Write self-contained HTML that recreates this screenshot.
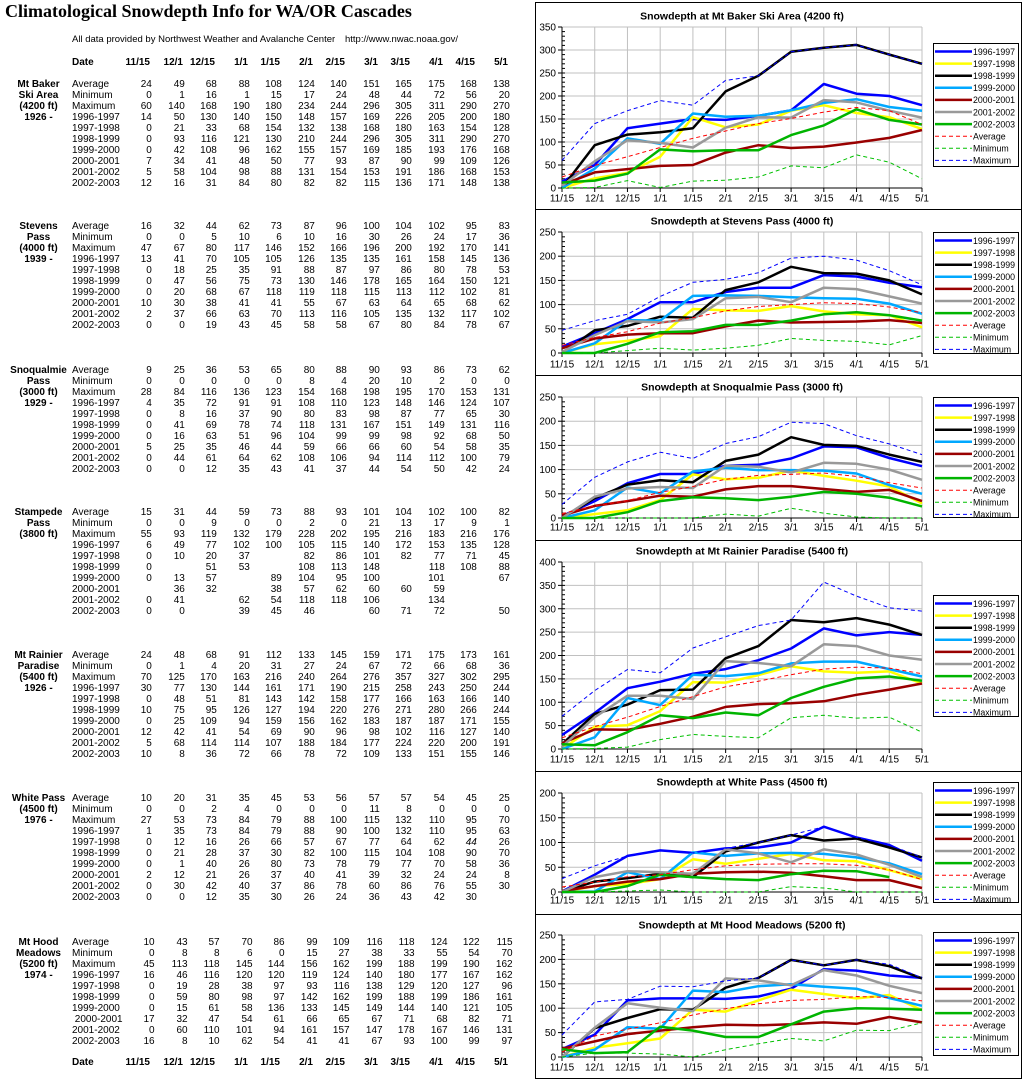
<!DOCTYPE html>
<html><head><meta charset="utf-8">
<style>
body{margin:0;background:#fff;width:1024px;height:1080px;position:relative;overflow:hidden;font-family:"Liberation Sans",Arial,sans-serif;}
h1{position:absolute;left:5px;top:1px;margin:0;font:bold 18px "Liberation Serif",serif;white-space:nowrap;}
.sub{position:absolute;top:34px;font-size:9.5px;white-space:nowrap;}
table.t{position:absolute;left:72px;border-collapse:collapse;table-layout:fixed;font-size:10px;}
table.t td{padding:0;height:11px;line-height:11px;text-align:right;white-space:nowrap;}
table.t td:first-child{text-align:left;}
table.h td{font-weight:bold;}
.st{position:absolute;left:0;width:77px;text-align:center;font-weight:bold;font-size:10px;line-height:11px;}
svg{position:absolute;left:0;top:0;}
svg text{font-family:"Liberation Sans",Arial,sans-serif;font-size:10px;}
svg .lg text{font-size:8.8px;}
</style></head><body>
<h1>Climatological Snowdepth Info for WA/OR Cascades</h1>
<div class="sub" style="left:72px">All data provided by Northwest Weather and Avalanche Center</div>
<div class="sub" style="left:345px">http://www.nwac.noaa.gov/</div>

<table class="t h" style="top:57px"><colgroup><col style="width:46px"><col style="width:32px"><col style="width:33px"><col style="width:32px"><col style="width:33px"><col style="width:32px"><col style="width:33px"><col style="width:32px"><col style="width:33px"><col style="width:32px"><col style="width:33px"><col style="width:32px"><col style="width:33px"></colgroup>
<tr><td>Date</td><td>11/15</td><td>12/1</td><td>12/15</td><td>1/1</td><td>1/15</td><td>2/1</td><td>2/15</td><td>3/1</td><td>3/15</td><td>4/1</td><td>4/15</td><td>5/1</td></tr></table>

<div class="st" style="top:78.5px">Mt Baker<br>Ski Area<br>(4200 ft)<br>1926 -</div>
<table class="t" style="top:78.5px"><colgroup><col style="width:46px"><col style="width:32px"><col style="width:33px"><col style="width:32px"><col style="width:33px"><col style="width:32px"><col style="width:33px"><col style="width:32px"><col style="width:33px"><col style="width:32px"><col style="width:33px"><col style="width:32px"><col style="width:33px"></colgroup>
<tr><td>Average</td><td>24</td><td>49</td><td>68</td><td>88</td><td>108</td><td>124</td><td>140</td><td>151</td><td>165</td><td>175</td><td>168</td><td>138</td></tr>
<tr><td>Minimum</td><td>0</td><td>1</td><td>16</td><td>1</td><td>15</td><td>17</td><td>24</td><td>48</td><td>44</td><td>72</td><td>56</td><td>20</td></tr>
<tr><td>Maximum</td><td>60</td><td>140</td><td>168</td><td>190</td><td>180</td><td>234</td><td>244</td><td>296</td><td>305</td><td>311</td><td>290</td><td>270</td></tr>
<tr><td>1996-1997</td><td>14</td><td>50</td><td>130</td><td>140</td><td>150</td><td>148</td><td>157</td><td>169</td><td>226</td><td>205</td><td>200</td><td>180</td></tr>
<tr><td>1997-1998</td><td>0</td><td>21</td><td>33</td><td>68</td><td>154</td><td>132</td><td>138</td><td>168</td><td>180</td><td>163</td><td>154</td><td>128</td></tr>
<tr><td>1998-1999</td><td>0</td><td>93</td><td>116</td><td>121</td><td>130</td><td>210</td><td>244</td><td>296</td><td>305</td><td>311</td><td>290</td><td>270</td></tr>
<tr><td>1999-2000</td><td>0</td><td>42</td><td>108</td><td>96</td><td>162</td><td>155</td><td>157</td><td>169</td><td>185</td><td>193</td><td>176</td><td>168</td></tr>
<tr><td>2000-2001</td><td>7</td><td>34</td><td>41</td><td>48</td><td>50</td><td>77</td><td>93</td><td>87</td><td>90</td><td>99</td><td>109</td><td>126</td></tr>
<tr><td>2001-2002</td><td>5</td><td>58</td><td>104</td><td>98</td><td>88</td><td>131</td><td>154</td><td>153</td><td>191</td><td>186</td><td>168</td><td>153</td></tr>
<tr><td>2002-2003</td><td>12</td><td>16</td><td>31</td><td>84</td><td>80</td><td>82</td><td>82</td><td>115</td><td>136</td><td>171</td><td>148</td><td>138</td></tr></table>

<div class="st" style="top:221px">Stevens<br>Pass<br>(4000 ft)<br>1939 -</div>
<table class="t" style="top:221px"><colgroup><col style="width:46px"><col style="width:32px"><col style="width:33px"><col style="width:32px"><col style="width:33px"><col style="width:32px"><col style="width:33px"><col style="width:32px"><col style="width:33px"><col style="width:32px"><col style="width:33px"><col style="width:32px"><col style="width:33px"></colgroup>
<tr><td>Average</td><td>16</td><td>32</td><td>44</td><td>62</td><td>73</td><td>87</td><td>96</td><td>100</td><td>104</td><td>102</td><td>95</td><td>83</td></tr>
<tr><td>Minimum</td><td>0</td><td>0</td><td>5</td><td>10</td><td>6</td><td>10</td><td>16</td><td>30</td><td>26</td><td>24</td><td>17</td><td>36</td></tr>
<tr><td>Maximum</td><td>47</td><td>67</td><td>80</td><td>117</td><td>146</td><td>152</td><td>166</td><td>196</td><td>200</td><td>192</td><td>170</td><td>141</td></tr>
<tr><td>1996-1997</td><td>13</td><td>41</td><td>70</td><td>105</td><td>105</td><td>126</td><td>135</td><td>135</td><td>161</td><td>158</td><td>145</td><td>136</td></tr>
<tr><td>1997-1998</td><td>0</td><td>18</td><td>25</td><td>35</td><td>91</td><td>88</td><td>87</td><td>97</td><td>86</td><td>80</td><td>78</td><td>53</td></tr>
<tr><td>1998-1999</td><td>0</td><td>47</td><td>56</td><td>75</td><td>73</td><td>130</td><td>146</td><td>178</td><td>165</td><td>164</td><td>150</td><td>121</td></tr>
<tr><td>1999-2000</td><td>0</td><td>20</td><td>68</td><td>67</td><td>118</td><td>119</td><td>118</td><td>115</td><td>113</td><td>112</td><td>102</td><td>81</td></tr>
<tr><td>2000-2001</td><td>10</td><td>30</td><td>38</td><td>41</td><td>41</td><td>55</td><td>67</td><td>63</td><td>64</td><td>65</td><td>68</td><td>62</td></tr>
<tr><td>2001-2002</td><td>2</td><td>37</td><td>66</td><td>63</td><td>70</td><td>113</td><td>116</td><td>105</td><td>135</td><td>132</td><td>117</td><td>102</td></tr>
<tr><td>2002-2003</td><td>0</td><td>0</td><td>19</td><td>43</td><td>45</td><td>58</td><td>58</td><td>67</td><td>80</td><td>84</td><td>78</td><td>67</td></tr></table>

<div class="st" style="top:364.5px">Snoqualmie<br>Pass<br>(3000 ft)<br>1929 -</div>
<table class="t" style="top:364.5px"><colgroup><col style="width:46px"><col style="width:32px"><col style="width:33px"><col style="width:32px"><col style="width:33px"><col style="width:32px"><col style="width:33px"><col style="width:32px"><col style="width:33px"><col style="width:32px"><col style="width:33px"><col style="width:32px"><col style="width:33px"></colgroup>
<tr><td>Average</td><td>9</td><td>25</td><td>36</td><td>53</td><td>65</td><td>80</td><td>88</td><td>90</td><td>93</td><td>86</td><td>73</td><td>62</td></tr>
<tr><td>Minimum</td><td>0</td><td>0</td><td>0</td><td>0</td><td>0</td><td>8</td><td>4</td><td>20</td><td>10</td><td>2</td><td>0</td><td>0</td></tr>
<tr><td>Maximum</td><td>28</td><td>84</td><td>116</td><td>136</td><td>123</td><td>154</td><td>168</td><td>198</td><td>195</td><td>170</td><td>153</td><td>131</td></tr>
<tr><td>1996-1997</td><td>4</td><td>35</td><td>72</td><td>91</td><td>91</td><td>108</td><td>110</td><td>123</td><td>148</td><td>146</td><td>124</td><td>107</td></tr>
<tr><td>1997-1998</td><td>0</td><td>8</td><td>16</td><td>37</td><td>90</td><td>80</td><td>83</td><td>98</td><td>87</td><td>77</td><td>65</td><td>30</td></tr>
<tr><td>1998-1999</td><td>0</td><td>41</td><td>69</td><td>78</td><td>74</td><td>118</td><td>131</td><td>167</td><td>151</td><td>149</td><td>131</td><td>116</td></tr>
<tr><td>1999-2000</td><td>0</td><td>16</td><td>63</td><td>51</td><td>96</td><td>104</td><td>99</td><td>99</td><td>98</td><td>92</td><td>68</td><td>50</td></tr>
<tr><td>2000-2001</td><td>5</td><td>25</td><td>35</td><td>46</td><td>44</td><td>59</td><td>66</td><td>66</td><td>60</td><td>54</td><td>58</td><td>35</td></tr>
<tr><td>2001-2002</td><td>0</td><td>44</td><td>61</td><td>64</td><td>62</td><td>108</td><td>106</td><td>94</td><td>114</td><td>112</td><td>100</td><td>79</td></tr>
<tr><td>2002-2003</td><td>0</td><td>0</td><td>12</td><td>35</td><td>43</td><td>41</td><td>37</td><td>44</td><td>54</td><td>50</td><td>42</td><td>24</td></tr></table>

<div class="st" style="top:507px">Stampede<br>Pass<br>(3800 ft)</div>
<table class="t" style="top:507px"><colgroup><col style="width:46px"><col style="width:32px"><col style="width:33px"><col style="width:32px"><col style="width:33px"><col style="width:32px"><col style="width:33px"><col style="width:32px"><col style="width:33px"><col style="width:32px"><col style="width:33px"><col style="width:32px"><col style="width:33px"></colgroup>
<tr><td>Average</td><td>15</td><td>31</td><td>44</td><td>59</td><td>73</td><td>88</td><td>93</td><td>101</td><td>104</td><td>102</td><td>100</td><td>82</td></tr>
<tr><td>Minimum</td><td>0</td><td>0</td><td>9</td><td>0</td><td>0</td><td>2</td><td>0</td><td>21</td><td>13</td><td>17</td><td>9</td><td>1</td></tr>
<tr><td>Maximum</td><td>55</td><td>93</td><td>119</td><td>132</td><td>179</td><td>228</td><td>202</td><td>195</td><td>216</td><td>183</td><td>216</td><td>176</td></tr>
<tr><td>1996-1997</td><td>6</td><td>49</td><td>77</td><td>102</td><td>100</td><td>105</td><td>115</td><td>140</td><td>172</td><td>153</td><td>135</td><td>128</td></tr>
<tr><td>1997-1998</td><td>0</td><td>10</td><td>20</td><td>37</td><td></td><td>82</td><td>86</td><td>101</td><td>82</td><td>77</td><td>71</td><td>45</td></tr>
<tr><td>1998-1999</td><td>0</td><td></td><td>51</td><td>53</td><td></td><td>108</td><td>113</td><td>148</td><td></td><td>118</td><td>108</td><td>88</td></tr>
<tr><td>1999-2000</td><td>0</td><td>13</td><td>57</td><td></td><td>89</td><td>104</td><td>95</td><td>100</td><td></td><td>101</td><td></td><td>67</td></tr>
<tr><td>2000-2001</td><td></td><td>36</td><td>32</td><td></td><td>38</td><td>57</td><td>62</td><td>60</td><td>60</td><td>59</td><td></td><td></td></tr>
<tr><td>2001-2002</td><td>0</td><td>41</td><td></td><td>62</td><td>54</td><td>118</td><td>118</td><td>106</td><td></td><td>134</td><td></td><td></td></tr>
<tr><td>2002-2003</td><td>0</td><td>0</td><td></td><td>39</td><td>45</td><td>46</td><td></td><td>60</td><td>71</td><td>72</td><td></td><td>50</td></tr></table>

<div class="st" style="top:650px">Mt Rainier<br>Paradise<br>(5400 ft)<br>1926 -</div>
<table class="t" style="top:650px"><colgroup><col style="width:46px"><col style="width:32px"><col style="width:33px"><col style="width:32px"><col style="width:33px"><col style="width:32px"><col style="width:33px"><col style="width:32px"><col style="width:33px"><col style="width:32px"><col style="width:33px"><col style="width:32px"><col style="width:33px"></colgroup>
<tr><td>Average</td><td>24</td><td>48</td><td>68</td><td>91</td><td>112</td><td>133</td><td>145</td><td>159</td><td>171</td><td>175</td><td>173</td><td>161</td></tr>
<tr><td>Minimum</td><td>0</td><td>1</td><td>4</td><td>20</td><td>31</td><td>27</td><td>24</td><td>67</td><td>72</td><td>66</td><td>68</td><td>36</td></tr>
<tr><td>Maximum</td><td>70</td><td>125</td><td>170</td><td>163</td><td>216</td><td>240</td><td>264</td><td>276</td><td>357</td><td>327</td><td>302</td><td>295</td></tr>
<tr><td>1996-1997</td><td>30</td><td>77</td><td>130</td><td>144</td><td>161</td><td>171</td><td>190</td><td>215</td><td>258</td><td>243</td><td>250</td><td>244</td></tr>
<tr><td>1997-1998</td><td>0</td><td>48</td><td>51</td><td>81</td><td>143</td><td>142</td><td>158</td><td>177</td><td>166</td><td>163</td><td>166</td><td>140</td></tr>
<tr><td>1998-1999</td><td>10</td><td>75</td><td>95</td><td>126</td><td>127</td><td>194</td><td>220</td><td>276</td><td>271</td><td>280</td><td>266</td><td>244</td></tr>
<tr><td>1999-2000</td><td>0</td><td>25</td><td>109</td><td>94</td><td>159</td><td>156</td><td>162</td><td>183</td><td>187</td><td>187</td><td>171</td><td>155</td></tr>
<tr><td>2000-2001</td><td>12</td><td>42</td><td>41</td><td>54</td><td>69</td><td>90</td><td>96</td><td>98</td><td>102</td><td>116</td><td>127</td><td>140</td></tr>
<tr><td>2001-2002</td><td>5</td><td>68</td><td>114</td><td>114</td><td>107</td><td>188</td><td>184</td><td>177</td><td>224</td><td>220</td><td>200</td><td>191</td></tr>
<tr><td>2002-2003</td><td>10</td><td>8</td><td>36</td><td>72</td><td>66</td><td>78</td><td>72</td><td>109</td><td>133</td><td>151</td><td>155</td><td>146</td></tr></table>

<div class="st" style="top:793px">White Pass<br>(4500 ft)<br>1976 -</div>
<table class="t" style="top:793px"><colgroup><col style="width:46px"><col style="width:32px"><col style="width:33px"><col style="width:32px"><col style="width:33px"><col style="width:32px"><col style="width:33px"><col style="width:32px"><col style="width:33px"><col style="width:32px"><col style="width:33px"><col style="width:32px"><col style="width:33px"></colgroup>
<tr><td>Average</td><td>10</td><td>20</td><td>31</td><td>35</td><td>45</td><td>53</td><td>56</td><td>57</td><td>57</td><td>54</td><td>45</td><td>25</td></tr>
<tr><td>Minimum</td><td>0</td><td>0</td><td>2</td><td>4</td><td>0</td><td>0</td><td>0</td><td>11</td><td>8</td><td>0</td><td>0</td><td>0</td></tr>
<tr><td>Maximum</td><td>27</td><td>53</td><td>73</td><td>84</td><td>79</td><td>88</td><td>100</td><td>115</td><td>132</td><td>110</td><td>95</td><td>70</td></tr>
<tr><td>1996-1997</td><td>1</td><td>35</td><td>73</td><td>84</td><td>79</td><td>88</td><td>90</td><td>100</td><td>132</td><td>110</td><td>95</td><td>63</td></tr>
<tr><td>1997-1998</td><td>0</td><td>12</td><td>16</td><td>26</td><td>66</td><td>57</td><td>67</td><td>77</td><td>64</td><td>62</td><td><i>44</i></td><td>26</td></tr>
<tr><td>1998-1999</td><td>0</td><td>21</td><td>28</td><td>37</td><td>30</td><td>82</td><td>100</td><td>115</td><td>104</td><td>108</td><td>90</td><td>70</td></tr>
<tr><td>1999-2000</td><td>0</td><td>1</td><td>40</td><td>26</td><td>80</td><td>73</td><td>78</td><td>79</td><td>77</td><td>70</td><td>58</td><td>36</td></tr>
<tr><td>2000-2001</td><td>2</td><td>12</td><td>21</td><td>26</td><td>37</td><td>40</td><td>41</td><td>39</td><td>32</td><td>24</td><td>24</td><td>8</td></tr>
<tr><td>2001-2002</td><td>0</td><td>30</td><td>42</td><td>40</td><td>37</td><td>86</td><td>78</td><td>60</td><td>86</td><td>76</td><td>55</td><td>30</td></tr>
<tr><td>2002-2003</td><td>0</td><td>0</td><td>12</td><td>35</td><td>30</td><td>26</td><td>24</td><td>36</td><td>43</td><td>42</td><td>30</td><td></td></tr></table>

<div class="st" style="top:936.5px">Mt Hood<br>Meadows<br>(5200 ft)<br>1974 -</div>
<table class="t" style="top:936.5px"><colgroup><col style="width:46px"><col style="width:32px"><col style="width:33px"><col style="width:32px"><col style="width:33px"><col style="width:32px"><col style="width:33px"><col style="width:32px"><col style="width:33px"><col style="width:32px"><col style="width:33px"><col style="width:32px"><col style="width:33px"></colgroup>
<tr><td>Average</td><td>10</td><td>43</td><td>57</td><td>70</td><td>86</td><td>99</td><td>109</td><td>116</td><td>118</td><td>124</td><td>122</td><td>115</td></tr>
<tr><td>Minimum</td><td>0</td><td>8</td><td>8</td><td>6</td><td>0</td><td>15</td><td>27</td><td>38</td><td>33</td><td>55</td><td>54</td><td>70</td></tr>
<tr><td>Maximum</td><td>45</td><td>113</td><td>118</td><td>145</td><td>144</td><td>156</td><td>162</td><td>199</td><td>188</td><td>199</td><td>190</td><td>162</td></tr>
<tr><td>1996-1997</td><td>16</td><td>46</td><td>116</td><td>120</td><td>120</td><td>119</td><td>124</td><td>140</td><td>180</td><td>177</td><td>167</td><td>162</td></tr>
<tr><td>1997-1998</td><td>0</td><td>19</td><td>28</td><td>38</td><td>97</td><td>93</td><td>116</td><td>138</td><td>129</td><td>120</td><td>127</td><td>96</td></tr>
<tr><td>1998-1999</td><td>0</td><td>59</td><td>80</td><td>98</td><td>97</td><td>142</td><td>162</td><td>199</td><td>188</td><td>199</td><td>186</td><td>161</td></tr>
<tr><td>1999-2000</td><td>0</td><td>15</td><td>61</td><td>58</td><td>136</td><td>133</td><td>145</td><td>149</td><td>144</td><td>140</td><td>121</td><td>105</td></tr>
<tr><td>&nbsp;2000-2001</td><td>17</td><td>32</td><td>47</td><td>54</td><td>61</td><td>66</td><td>65</td><td>67</td><td>71</td><td>68</td><td>82</td><td>71</td></tr>
<tr><td>2001-2002</td><td>0</td><td>60</td><td>110</td><td>101</td><td>94</td><td>161</td><td>157</td><td>147</td><td>178</td><td>167</td><td>146</td><td>131</td></tr>
<tr><td>2002-2003</td><td>16</td><td>8</td><td>10</td><td>62</td><td>54</td><td>41</td><td>41</td><td>67</td><td>93</td><td>100</td><td>99</td><td>97</td></tr></table>

<table class="t h" style="top:1057px"><colgroup><col style="width:46px"><col style="width:32px"><col style="width:33px"><col style="width:32px"><col style="width:33px"><col style="width:32px"><col style="width:33px"><col style="width:32px"><col style="width:33px"><col style="width:32px"><col style="width:33px"><col style="width:32px"><col style="width:33px"></colgroup>
<tr><td>Date</td><td>11/15</td><td>12/1</td><td>12/15</td><td>1/1</td><td>1/15</td><td>2/1</td><td>2/15</td><td>3/1</td><td>3/15</td><td>4/1</td><td>4/15</td><td>5/1</td></tr></table>

<svg width="1024" height="1080" viewBox="0 0 1024 1080">
<rect x="535.5" y="2.5" width="486" height="1076" fill="none" stroke="#000"/>
<g stroke="#000"><line x1="535" y1="209.5" x2="1022" y2="209.5"/><line x1="535" y1="375.5" x2="1022" y2="375.5"/><line x1="535" y1="540.5" x2="1022" y2="540.5"/><line x1="535" y1="771.5" x2="1022" y2="771.5"/><line x1="535" y1="914.5" x2="1022" y2="914.5"/></g>
<g id="lines"></g>
<g text-anchor="middle">
<text x="742" y="19.5" style="font-weight:bold;font-size:10.5px">Snowdepth at Mt Baker Ski Area (4200 ft)</text>
<text x="742" y="224.5" style="font-weight:bold;font-size:10.5px">Snowdepth at Stevens Pass (4000 ft)</text>
<text x="742" y="390.5" style="font-weight:bold;font-size:10.5px">Snowdepth at Snoqualmie Pass (3000 ft)</text>
<text x="742" y="554.5" style="font-weight:bold;font-size:10.5px">Snowdepth at Mt Rainier Paradise (5400 ft)</text>
<text x="742" y="785.5" style="font-weight:bold;font-size:10.5px">Snowdepth at White Pass (4500 ft)</text>
<text x="742" y="928.5" style="font-weight:bold;font-size:10.5px">Snowdepth at Mt Hood Meadows (5200 ft)</text>
</g>
<g text-anchor="end">
<text x="556" y="191.5">0</text><text x="556" y="168.5">50</text><text x="556" y="145.5">100</text><text x="556" y="122.5">150</text><text x="556" y="99.5">200</text><text x="556" y="76.5">250</text><text x="556" y="53.5">300</text><text x="556" y="30.5">350</text>
<text x="556" y="356.5">0</text><text x="556" y="332.3">50</text><text x="556" y="308.1">100</text><text x="556" y="283.9">150</text><text x="556" y="259.7">200</text><text x="556" y="235.5">250</text>
<text x="556" y="521.5">0</text><text x="556" y="497.3">50</text><text x="556" y="473.1">100</text><text x="556" y="448.9">150</text><text x="556" y="424.7">200</text><text x="556" y="400.5">250</text>
<text x="556" y="752.5">0</text><text x="556" y="729.1">50</text><text x="556" y="705.8">100</text><text x="556" y="682.4">150</text><text x="556" y="659">200</text><text x="556" y="635.6">250</text><text x="556" y="612.3">300</text><text x="556" y="588.9">350</text><text x="556" y="565.5">400</text>
<text x="556" y="895.5">0</text><text x="556" y="870.8">50</text><text x="556" y="846">100</text><text x="556" y="821.3">150</text><text x="556" y="796.5">200</text>
<text x="556" y="1060.5">0</text><text x="556" y="1036.1">50</text><text x="556" y="1011.7">100</text><text x="556" y="987.3">150</text><text x="556" y="962.9">200</text><text x="556" y="938.5">250</text>
</g>
<g text-anchor="middle">
<g transform="translate(0,201.5)"><text x="562">11/15</text><text x="594.7">12/1</text><text x="627.5">12/15</text><text x="660.2">1/1</text><text x="692.9">1/15</text><text x="725.6">2/1</text><text x="758.4">2/15</text><text x="791.1">3/1</text><text x="823.8">3/15</text><text x="856.5">4/1</text><text x="889.3">4/15</text><text x="922">5/1</text></g>
<g transform="translate(0,367.5)"><text x="562">11/15</text><text x="594.7">12/1</text><text x="627.5">12/15</text><text x="660.2">1/1</text><text x="692.9">1/15</text><text x="725.6">2/1</text><text x="758.4">2/15</text><text x="791.1">3/1</text><text x="823.8">3/15</text><text x="856.5">4/1</text><text x="889.3">4/15</text><text x="922">5/1</text></g>
<g transform="translate(0,530.5)"><text x="562">11/15</text><text x="594.7">12/1</text><text x="627.5">12/15</text><text x="660.2">1/1</text><text x="692.9">1/15</text><text x="725.6">2/1</text><text x="758.4">2/15</text><text x="791.1">3/1</text><text x="823.8">3/15</text><text x="856.5">4/1</text><text x="889.3">4/15</text><text x="922">5/1</text></g>
<g transform="translate(0,762.5)"><text x="562">11/15</text><text x="594.7">12/1</text><text x="627.5">12/15</text><text x="660.2">1/1</text><text x="692.9">1/15</text><text x="725.6">2/1</text><text x="758.4">2/15</text><text x="791.1">3/1</text><text x="823.8">3/15</text><text x="856.5">4/1</text><text x="889.3">4/15</text><text x="922">5/1</text></g>
<g transform="translate(0,903.5)"><text x="562">11/15</text><text x="594.7">12/1</text><text x="627.5">12/15</text><text x="660.2">1/1</text><text x="692.9">1/15</text><text x="725.6">2/1</text><text x="758.4">2/15</text><text x="791.1">3/1</text><text x="823.8">3/15</text><text x="856.5">4/1</text><text x="889.3">4/15</text><text x="922">5/1</text></g>
<g transform="translate(0,1070.5)"><text x="562">11/15</text><text x="594.7">12/1</text><text x="627.5">12/15</text><text x="660.2">1/1</text><text x="692.9">1/15</text><text x="725.6">2/1</text><text x="758.4">2/15</text><text x="791.1">3/1</text><text x="823.8">3/15</text><text x="856.5">4/1</text><text x="889.3">4/15</text><text x="922">5/1</text></g>
</g>
<g class="lg" transform="translate(0,43)"><rect x="933.5" y="0.5" width="85" height="123" fill="#fff" stroke="#000"/><text x="973" y="11.8">1996-1997</text><text x="973" y="23.9">1997-1998</text><text x="973" y="36">1998-1999</text><text x="973" y="48.1">1999-2000</text><text x="973" y="60.2">2000-2001</text><text x="973" y="72.3">2001-2002</text><text x="973" y="84.4">2002-2003</text><text x="973" y="96.5">Average</text><text x="973" y="108.6">Minimum</text><text x="973" y="120.7">Maximum</text></g>
<g class="lg" transform="translate(0,232)"><rect x="933.5" y="0.5" width="85" height="121" fill="#fff" stroke="#000"/><text x="973" y="11.8">1996-1997</text><text x="973" y="23.9">1997-1998</text><text x="973" y="36">1998-1999</text><text x="973" y="48.1">1999-2000</text><text x="973" y="60.2">2000-2001</text><text x="973" y="72.3">2001-2002</text><text x="973" y="84.4">2002-2003</text><text x="973" y="96.5">Average</text><text x="973" y="108.6">Minimum</text><text x="973" y="120.7">Maximum</text></g>
<g class="lg" transform="translate(0,397)"><rect x="933.5" y="0.5" width="85" height="120" fill="#fff" stroke="#000"/><text x="973" y="11.8">1996-1997</text><text x="973" y="23.9">1997-1998</text><text x="973" y="36">1998-1999</text><text x="973" y="48.1">1999-2000</text><text x="973" y="60.2">2000-2001</text><text x="973" y="72.3">2001-2002</text><text x="973" y="84.4">2002-2003</text><text x="973" y="96.5">Average</text><text x="973" y="108.6">Minimum</text><text x="973" y="120.7">Maximum</text></g>
<g class="lg" transform="translate(0,595)"><rect x="933.5" y="0.5" width="85" height="121" fill="#fff" stroke="#000"/><text x="973" y="11.8">1996-1997</text><text x="973" y="23.9">1997-1998</text><text x="973" y="36">1998-1999</text><text x="973" y="48.1">1999-2000</text><text x="973" y="60.2">2000-2001</text><text x="973" y="72.3">2001-2002</text><text x="973" y="84.4">2002-2003</text><text x="973" y="96.5">Average</text><text x="973" y="108.6">Minimum</text><text x="973" y="120.7">Maximum</text></g>
<g class="lg" transform="translate(0,782)"><rect x="933.5" y="0.5" width="85" height="120" fill="#fff" stroke="#000"/><text x="973" y="11.8">1996-1997</text><text x="973" y="23.9">1997-1998</text><text x="973" y="36">1998-1999</text><text x="973" y="48.1">1999-2000</text><text x="973" y="60.2">2000-2001</text><text x="973" y="72.3">2001-2002</text><text x="973" y="84.4">2002-2003</text><text x="973" y="96.5">Average</text><text x="973" y="108.6">Minimum</text><text x="973" y="120.7">Maximum</text></g>
<g class="lg" transform="translate(0,932)"><rect x="933.5" y="0.5" width="85" height="123" fill="#fff" stroke="#000"/><text x="973" y="11.8">1996-1997</text><text x="973" y="23.9">1997-1998</text><text x="973" y="36">1998-1999</text><text x="973" y="48.1">1999-2000</text><text x="973" y="60.2">2000-2001</text><text x="973" y="72.3">2001-2002</text><text x="973" y="84.4">2002-2003</text><text x="973" y="96.5">Average</text><text x="973" y="108.6">Minimum</text><text x="973" y="120.7">Maximum</text></g>
<g id="leglines"></g>
</svg>
<script>
(function(){
var NS="http://www.w3.org/2000/svg";
var S=[{c:"#0000ff",w:2.5},{c:"#ffff00",w:2.5},{c:"#000000",w:2.5},{c:"#00a8ff",w:2.5},{c:"#990000",w:2.5},{c:"#999999",w:2.5},{c:"#00b400",w:2.5},{c:"#ff0000",w:1,d:"4,3"},{c:"#00c000",w:1,d:"4,3"},{c:"#0000ff",w:1,d:"4,3"}];
var C=[
{t:27,b:188,m:350,lt:43,d:[[14,50,130,140,150,148,157,169,226,205,200,180],[0,21,33,68,154,132,138,168,180,163,154,128],[0,93,116,121,130,210,244,296,305,311,290,270],[0,42,108,96,162,155,157,169,185,193,176,168],[7,34,41,48,50,77,93,87,90,99,109,126],[5,58,104,98,88,131,154,153,191,186,168,153],[12,16,31,84,80,82,82,115,136,171,148,138],[24,49,68,88,108,124,140,151,165,175,168,138],[0,1,16,1,15,17,24,48,44,72,56,20],[60,140,168,190,180,234,244,296,305,311,290,270]]},
{t:232,b:353,m:250,lt:232,d:[[13,41,70,105,105,126,135,135,161,158,145,136],[0,18,25,35,91,88,87,97,86,80,78,53],[0,47,56,75,73,130,146,178,165,164,150,121],[0,20,68,67,118,119,118,115,113,112,102,81],[10,30,38,41,41,55,67,63,64,65,68,62],[2,37,66,63,70,113,116,105,135,132,117,102],[0,0,19,43,45,58,58,67,80,84,78,67],[16,32,44,62,73,87,96,100,104,102,95,83],[0,0,5,10,6,10,16,30,26,24,17,36],[47,67,80,117,146,152,166,196,200,192,170,141]]},
{t:397,b:518,m:250,lt:397,d:[[4,35,72,91,91,108,110,123,148,146,124,107],[0,8,16,37,90,80,83,98,87,77,65,30],[0,41,69,78,74,118,131,167,151,149,131,116],[0,16,63,51,96,104,99,99,98,92,68,50],[5,25,35,46,44,59,66,66,60,54,58,35],[0,44,61,64,62,108,106,94,114,112,100,79],[0,0,12,35,43,41,37,44,54,50,42,24],[9,25,36,53,65,80,88,90,93,86,73,62],[0,0,0,0,0,8,4,20,10,2,0,0],[28,84,116,136,123,154,168,198,195,170,153,131]]},
{t:562,b:749,m:400,lt:595,d:[[30,77,130,144,161,171,190,215,258,243,250,244],[0,48,51,81,143,142,158,177,166,163,166,140],[10,75,95,126,127,194,220,276,271,280,266,244],[0,25,109,94,159,156,162,183,187,187,171,155],[12,42,41,54,69,90,96,98,102,116,127,140],[5,68,114,114,107,188,184,177,224,220,200,191],[10,8,36,72,66,78,72,109,133,151,155,146],[24,48,68,91,112,133,145,159,171,175,173,161],[0,1,4,20,31,27,24,67,72,66,68,36],[70,125,170,163,216,240,264,276,357,327,302,295]]},
{t:793,b:892,m:200,lt:782,d:[[1,35,73,84,79,88,90,100,132,110,95,63],[0,12,16,26,66,57,67,77,64,62,44,26],[0,21,28,37,30,82,100,115,104,108,90,70],[0,1,40,26,80,73,78,79,77,70,58,36],[2,12,21,26,37,40,41,39,32,24,24,8],[0,30,42,40,37,86,78,60,86,76,55,30],[0,0,12,35,30,26,24,36,43,42,30,null],[10,20,31,35,45,53,56,57,57,54,45,25],[0,0,2,4,0,0,0,11,8,0,0,0],[27,53,73,84,79,88,100,115,132,110,95,70]]},
{t:935,b:1057,m:250,lt:932,d:[[16,46,116,120,120,119,124,140,180,177,167,162],[0,19,28,38,97,93,116,138,129,120,127,96],[0,59,80,98,97,142,162,199,188,199,186,161],[0,15,61,58,136,133,145,149,144,140,121,105],[17,32,47,54,61,66,65,67,71,68,82,71],[0,60,110,101,94,161,157,147,178,167,146,131],[16,8,10,62,54,41,41,67,93,100,99,97],[10,43,57,70,86,99,109,116,118,124,122,115],[0,8,8,6,0,15,27,38,33,55,54,70],[45,113,118,145,144,156,162,199,188,199,190,162]]}];
var g=document.getElementById("lines"),lg=document.getElementById("leglines");
function el(n,a,p){var e=document.createElementNS(NS,n);for(var k in a)e.setAttribute(k,a[k]);p.appendChild(e);return e;}
var X0=562,X1=922,dx=(X1-X0)/11;
C.forEach(function(c){
 var h=c.b-c.t,n=c.m/50;
 for(var i=0;i<12;i++){var x=X0+i*dx;el("line",{x1:x,y1:c.t,x2:x,y2:c.b,stroke:"#c0c0c0","stroke-width":1},g);el("line",{x1:x,y1:c.b,x2:x,y2:c.b+4,stroke:"#000"},g);}
 for(var j=0;j<=n;j++){var y=c.b-j*h/n;el("line",{x1:X0,y1:y,x2:X1,y2:y,stroke:"#c0c0c0","stroke-width":1},g);el("line",{x1:X0-4,y1:y,x2:X0,y2:y,stroke:"#000"},g);}
 for(var j=0;j<n*5;j++){var y=c.b-j*h/(n*5);el("line",{x1:X0,y1:y,x2:X0+3,y2:y,stroke:"#000"},g);}
 el("line",{x1:X0,y1:c.t,x2:X0,y2:c.b,stroke:"#000"},g);
 el("line",{x1:X0,y1:c.b,x2:X1,y2:c.b,stroke:"#000"},g);
 c.d.forEach(function(s,k){var st=S[k],pts=[];
  function flush(){if(pts.length>1){var a={points:pts.join(" "),fill:"none",stroke:st.c,"stroke-width":st.w,"stroke-linejoin":"round"};if(st.d)a["stroke-dasharray"]=st.d;el("polyline",a,g);}pts=[];}
  s.forEach(function(v,i){if(v==null){flush();return;}pts.push((X0+i*dx).toFixed(1)+","+(c.b-v/c.m*h).toFixed(1));});flush();
  var ly=c.lt+8.5+k*12.1;var a={x1:935,y1:ly,x2:972,y2:ly,stroke:st.c,"stroke-width":st.w};if(st.d)a["stroke-dasharray"]=st.d;el("line",a,lg);
 });
});
})();
</script>
</body></html>
